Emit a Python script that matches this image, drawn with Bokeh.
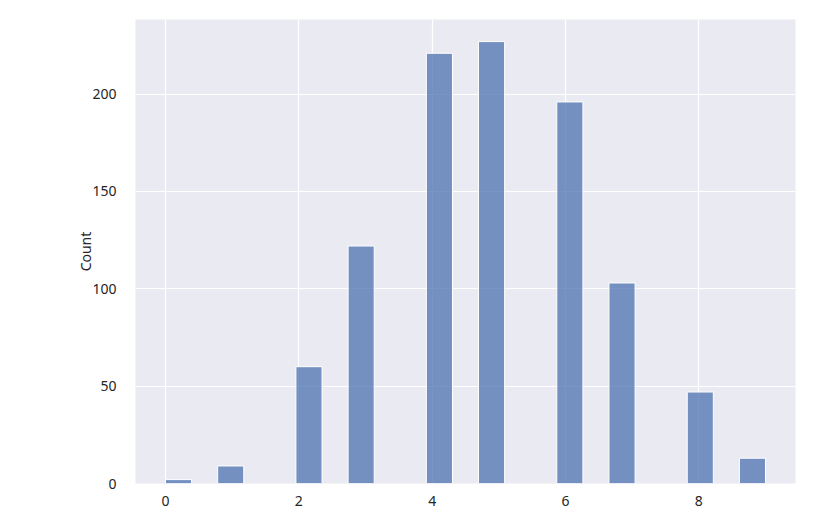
import numpy as np
from bokeh.plotting import figure
from bokeh.models import Range1d, FixedTicker
from bokeh.embed import file_html
from bokeh.resources import INLINE

values = [0, 1, 2, 3, 4, 5, 6, 7, 8, 9]
counts = [2, 9, 60, 122, 221, 227, 196, 103, 47, 13]
x_ticks = [0, 2, 4, 6, 8]
y_ticks = [0, 50, 100, 150, 200]
n_bins = 23

edges = np.linspace(min(values), max(values), n_bins + 1)
hist = np.zeros(n_bins)
for v, c in zip(values, counts):
    idx = min(np.searchsorted(edges, v, side="right") - 1, n_bins - 1)
    hist[idx] += c
mask = hist > 0
lefts = edges[:-1][mask]
rights = edges[1:][mask]
tops = hist[mask]

span = max(values) - min(values)
p = figure(width=809, height=516, output_backend="svg", toolbar_location=None,
           x_range=Range1d(min(values) - 0.05 * span, max(values) + 0.05 * span),
           y_range=Range1d(0, max(counts) * 1.05))
p.min_border_left = 135
p.min_border_right = 14
p.min_border_top = 19
p.min_border_bottom = 33
p.background_fill_color = "#EAEAF2"
p.border_fill_color = "white"
p.outline_line_color = None

p.quad(left=lefts, right=rights, bottom=0, top=tops, fill_color="#4C72B0",
       fill_alpha=0.75, line_color="white", line_width=1)

for ax in (p.xaxis, p.yaxis):
    ax.axis_line_color = None
    ax.major_tick_line_color = None
    ax.minor_tick_line_color = None
    ax.major_label_text_font = "Noto Sans"
    ax.major_label_text_font_size = "14px"
    ax.major_label_text_color = "#262626"
p.xaxis.ticker = FixedTicker(ticks=x_ticks)
p.yaxis.ticker = FixedTicker(ticks=y_ticks)
p.xaxis.major_label_standoff = 6
p.yaxis.major_label_standoff = 13
p.yaxis.axis_label = "Count"
p.yaxis.axis_label_text_font = "Noto Sans"
p.yaxis.axis_label_text_font_size = "14px"
p.yaxis.axis_label_text_font_style = "normal"
p.yaxis.axis_label_text_color = "#262626"
p.yaxis.axis_label_standoff = -6

p.xgrid.grid_line_color = "white"
p.ygrid.grid_line_color = "white"
p.xgrid.grid_line_width = 1.2
p.ygrid.grid_line_width = 1.2

open("out.html", "w").write(file_html(p, INLINE))
